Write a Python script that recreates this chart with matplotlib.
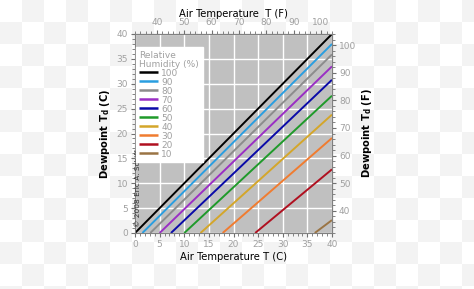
import numpy as np
import matplotlib.pyplot as plt
from matplotlib.ticker import MultipleLocator

# relative humidity curves: dewpoint at T=0 crossing and at T=40 C
rh = [100, 90, 80, 70, 60, 50, 40, 30, 20, 10]
t_zero = [0.0, 1.5, 3.1, 5.0, 7.3, 10.0, 13.3, 17.8, 24.4, 36.5]   # T where Td = 0
td_40 = [40.0, 38.0, 35.9, 33.5, 30.8, 27.6, 23.8, 19.1, 12.8, 2.6]  # Td at T = 40
colors = ['#000000', '#2a9ee0', '#8c8c8c', '#9a2fc4', '#0a0aa8',
          '#1f9a2a', '#d4a62a', '#f07c30', '#b01020', '#9a7444']

f_ticks = [40, 50, 60, 70, 80, 90, 100]

fig = plt.figure(figsize=(4.74, 2.89), dpi=100)

# checker background
yy, xx = np.indices((289, 474))
chk = ((yy // 22 + xx // 22) % 2).astype(float)
img = np.where(chk[..., None] > 0, 0.955, 1.0) * np.ones((289, 474, 3))
fig.figimage(img, 0, 0, zorder=-10)

ax = fig.add_axes([135/474, 56/289, 197/474, 199/289])
ax.set_facecolor('#c0c0c0')

for i in range(len(rh)):
    ax.plot([t_zero[i], 40], [0, td_40[i]], color=colors[i], lw=1.4,
            label=str(rh[i]), solid_capstyle='butt')

ax.set_xlim(0, 40)
ax.set_ylim(0, 40)
ax.xaxis.set_major_locator(MultipleLocator(5))
ax.yaxis.set_major_locator(MultipleLocator(5))
ax.xaxis.set_minor_locator(MultipleLocator(1))
ax.yaxis.set_minor_locator(MultipleLocator(1))
ax.grid(color='white', lw=1.0)
ax.set_axisbelow(True)

gray = '#a0a0a0'
lab = dict(fontsize=8, fontstretch='condensed')
for s in ax.spines.values():
    s.set_color('#808080')
ax.tick_params(which='both', colors='#707070', labelcolor=gray, labelsize=6.5, pad=2)
ax.tick_params(which='major', length=3)
ax.tick_params(which='minor', length=2)

ax.set_xlabel('Air Temperature T (C)', labelpad=2, **lab)
ax.set_ylabel(r'Dewpoint T$_\mathregular{d}$ (C)', fontweight='bold', labelpad=3, **lab)

c2f = lambda c: c * 9 / 5 + 32
f2c = lambda f: (f - 32) * 5 / 9
top = ax.secondary_xaxis('top', functions=(c2f, f2c))
top.set_xticks(f_ticks)
top.xaxis.set_minor_locator(MultipleLocator(2))
top.tick_params(which='both', colors='#707070', labelcolor=gray, labelsize=6.5, pad=2)
top.tick_params(which='major', length=3)
top.tick_params(which='minor', length=2)
top.set_xlabel('Air Temperature  T (F)', labelpad=1, **lab)

right = ax.secondary_yaxis('right', functions=(c2f, f2c))
right.set_yticks(f_ticks)
right.yaxis.set_minor_locator(MultipleLocator(2))
right.tick_params(which='both', colors='#707070', labelcolor=gray, labelsize=6.5, pad=2)
right.tick_params(which='major', length=3)
right.tick_params(which='minor', length=2)
right.set_ylabel(r'Dewpoint T$_\mathregular{d}$ (F)', fontweight='bold', labelpad=3, **lab)
for s in list(top.spines.values()) + list(right.spines.values()):
    s.set_color('#808080')

leg = ax.legend(title='Relative\nHumidity (%)', loc='upper left',
                bbox_to_anchor=(0.004, 0.935), fontsize=6.5,
                title_fontsize=6.5, frameon=True, fancybox=False, framealpha=1,
                edgecolor='white', handlelength=2.1, labelspacing=0.0,
                borderaxespad=0, handletextpad=0.3, borderpad=0.4)
leg._legend_box.align = 'left'
leg.get_title().set_color(gray)
leg.get_title().set_linespacing(1.0)
for t in leg.get_texts():
    t.set_color(gray)
for h in leg.get_lines():
    h.set_linewidth(1.8)

ax.text(0.7, 1.2, '\u00a9 2008 Eric A. Schiff', rotation=90, fontsize=5.3,
        color='#303030', ha='center', va='bottom', zorder=5)

fig.savefig('out.png', dpi=100)
